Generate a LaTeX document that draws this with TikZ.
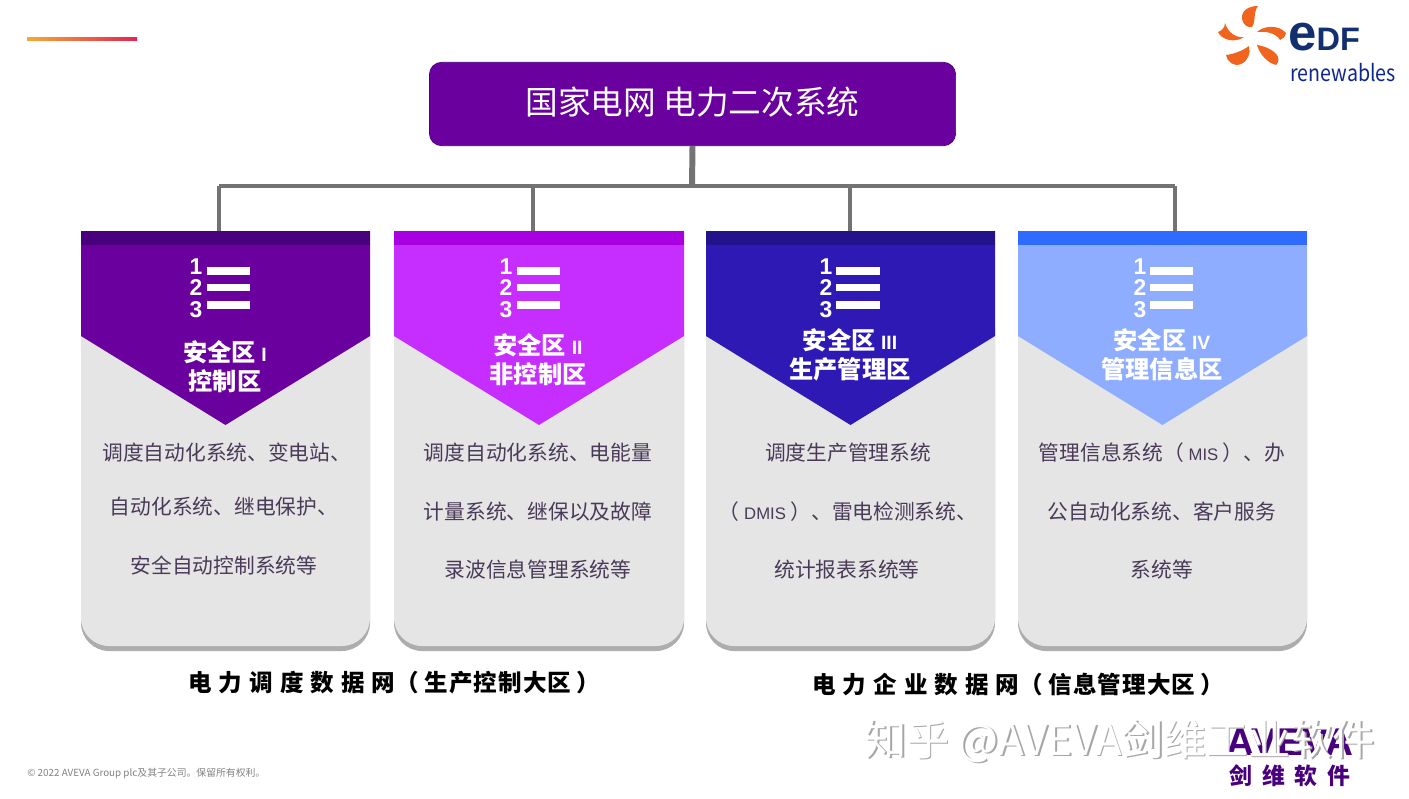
\documentclass[tikz,border=0pt]{standalone}
\usepackage{fontspec}
\usepackage{graphicx}
\usepackage{tikz}
\usetikzlibrary{positioning}
\setmainfont{Noto Sans CJK SC}
\newfontfamily\latinfont{Liberation Sans}
\definecolor{zoneA}{HTML}{6A009D}
\definecolor{zoneAtop}{HTML}{48007C}
\definecolor{zoneB}{HTML}{C62DFF}
\definecolor{zoneBtop}{HTML}{A800E0}
\definecolor{zoneC}{HTML}{2F19B5}
\definecolor{zoneCtop}{HTML}{23128C}
\definecolor{zoneD}{HTML}{8FADFF}
\definecolor{zoneDtop}{HTML}{2F6BFF}
\definecolor{edforange}{HTML}{F0641E}
\definecolor{edfblue}{HTML}{12306F}
\definecolor{bodytext}{HTML}{4A3A58}
\definecolor{ruleleft}{HTML}{F6A935}
\definecolor{ruleright}{HTML}{E5234F}
\begin{document}
\begin{tikzpicture}
  [
    x=0.02cm,
    y=-0.02cm,
    link/.style={draw=black!55,line width=2.6pt},
    cardbase/.style={fill=black!32},
    card/.style={fill=black!10},
    zonelabel/.style={text=white,font=\fontsize{13.8}{16}\selectfont\bfseries,inner sep=0pt},
    listnum/.style={text=white,font=\latinfont\fontsize{13}{14}\selectfont\bfseries,inner sep=0pt},
    listbar/.style={fill=white},
    bodyline/.style={text=bodytext,font=\fontsize{11.8}{14}\selectfont,inner sep=0pt},
    sublabel/.style={text=black,font=\fontsize{13.4}{16}\selectfont\bfseries,inner sep=0pt},
    petal/.style={fill=edforange}
  ]
  \useasboundingbox (0,0) rectangle (1409,798);
  \shade [left color=ruleleft,right color=ruleright] (27,37) rectangle (137,40);
  % title
  \node [fill=zoneA,draw=zoneAtop,rounded corners=7pt,minimum width=299.5pt,minimum height=47.5pt,inner sep=0pt,text=white,font=\fontsize{18.6}{22}\selectfont] (title) at (692.5,104) {\raisebox{3.4pt}{国家电网 电力二次系统}};
  % connectors
  \coordinate (stem) at (692,186);
  \coordinate (busA) at (219,186);
  \coordinate (busB) at (533,186);
  \coordinate (busC) at (850,186);
  \coordinate (busD) at (1175,186);
  \coordinate (dropA) at (219,231);
  \coordinate (dropB) at (533,231);
  \coordinate (dropC) at (850,231);
  \coordinate (dropD) at (1175,231);
  \draw [link,line width=3.4pt] (title.south) -- (stem);
  \draw [link] (busA) -- (busD);
  \draw [link] (busA) -- (dropA);
  \draw [link] (busB) -- (dropB);
  \draw [link] (busC) -- (dropC);
  \draw [link] (busD) -- (dropD);
  % cards
  \fill [cardbase,rounded corners=16pt] (81,300) -- (81,651) -- (370,651) -- (370,300) -- cycle;
  \fill [card,rounded corners=16pt] (81,300) -- (81,646) -- (370,646) -- (370,300) -- cycle;
  \fill [zoneA] (81,231) -- (370,231) -- (370,336) -- (225.5,425) -- (81,336) -- cycle;
  \fill [zoneAtop] (81,231) rectangle (370,245);
  \fill [cardbase,rounded corners=16pt] (394,300) -- (394,651) -- (684,651) -- (684,300) -- cycle;
  \fill [card,rounded corners=16pt] (394,300) -- (394,646) -- (684,646) -- (684,300) -- cycle;
  \fill [zoneB] (394,231) -- (684,231) -- (684,336) -- (539,425) -- (394,336) -- cycle;
  \fill [zoneBtop] (394,231) rectangle (684,245);
  \fill [cardbase,rounded corners=16pt] (706,300) -- (706,651) -- (995,651) -- (995,300) -- cycle;
  \fill [card,rounded corners=16pt] (706,300) -- (706,646) -- (995,646) -- (995,300) -- cycle;
  \fill [zoneC] (706,231) -- (995,231) -- (995,336) -- (850.5,425) -- (706,336) -- cycle;
  \fill [zoneCtop] (706,231) rectangle (995,245);
  \fill [cardbase,rounded corners=16pt] (1018,300) -- (1018,651) -- (1307,651) -- (1307,300) -- cycle;
  \fill [card,rounded corners=16pt] (1018,300) -- (1018,646) -- (1307,646) -- (1307,300) -- cycle;
  \fill [zoneD] (1018,231) -- (1307,231) -- (1307,336) -- (1162.5,425) -- (1018,336) -- cycle;
  \fill [zoneDtop] (1018,231) rectangle (1307,245);
  % list icons
  \fill [listbar] (207,267) rectangle (250,275);
  \fill [listbar] (207,284) rectangle (250,291);
  \fill [listbar] (207,301) rectangle (250,309);
  \node [listnum] (numA1) at (196,267) {1};
  \node [listnum] (numA2) at (196,288) {2};
  \node [listnum] (numA3) at (196,310) {3};
  \fill [listbar] (517,267) rectangle (560,275);
  \fill [listbar] (517,284) rectangle (560,291);
  \fill [listbar] (517,301) rectangle (560,309);
  \node [listnum] (numB1) at (506,267) {1};
  \node [listnum] (numB2) at (506,288) {2};
  \node [listnum] (numB3) at (506,310) {3};
  \fill [listbar] (836,267) rectangle (880,275);
  \fill [listbar] (836,284) rectangle (880,291);
  \fill [listbar] (836,301) rectangle (880,309);
  \node [listnum] (numC1) at (826,267) {1};
  \node [listnum] (numC2) at (826,288) {2};
  \node [listnum] (numC3) at (826,310) {3};
  \fill [listbar] (1150,267) rectangle (1193,275);
  \fill [listbar] (1150,284) rectangle (1193,291);
  \fill [listbar] (1150,301) rectangle (1193,309);
  \node [listnum] (numD1) at (1140,267) {1};
  \node [listnum] (numD2) at (1140,288) {2};
  \node [listnum] (numD3) at (1140,310) {3};
  % zone labels
  \node [zonelabel] (zoneAa) at (225,352) {安全区 {\latinfont\fontsize{11}{12}\selectfont I}};
  \node [zonelabel] (zoneAb) at (225,381) {控制区};
  \node [zonelabel] (zoneBa) at (538,345) {安全区 {\latinfont\fontsize{11}{12}\selectfont II}};
  \node [zonelabel] (zoneBb) at (538,374) {非控制区};
  \node [zonelabel] (zoneCa) at (850,340) {安全区 {\latinfont\fontsize{11}{12}\selectfont III}};
  \node [zonelabel] (zoneCb) at (850,369) {生产管理区};
  \node [zonelabel] (zoneDa) at (1162,340) {安全区 {\latinfont\fontsize{11}{12}\selectfont IV}};
  \node [zonelabel] (zoneDb) at (1162,369) {管理信息区};
  % body text
  \node [bodyline,anchor=west] (bodyA1) at (102,453) {调度自动化系统、变电站、};
  \node [bodyline] (bodyA2) at (224,507) {自动化系统、继电保护、};
  \node [bodyline] (bodyA3) at (224,566) {安全自动控制系统等};
  \node [bodyline] (bodyB1) at (538,453) {调度自动化系统、电能量};
  \node [bodyline] (bodyB2) at (538,512) {计量系统、继保以及故障};
  \node [bodyline] (bodyB3) at (538,570) {录波信息管理系统等};
  \node [bodyline] (bodyC1) at (848,453) {调度生产管理系统};
  \node [bodyline] (bodyC2) at (848,512) {（ {\latinfont\fontsize{9.5}{10}\selectfont DMIS} ）、雷电检测系统、};
  \node [bodyline] (bodyC3) at (847,570) {统计报表系统等};
  \node [bodyline] (bodyD1) at (1162,453) {管理信息系统（ {\latinfont\fontsize{9.5}{10}\selectfont MIS} ）、办};
  \node [bodyline] (bodyD2) at (1162,512) {公自动化系统、客户服务};
  \node [bodyline] (bodyD3) at (1162,570) {系统等};
  % lower labels
  \node [sublabel,anchor=west] (netA) at (188,683) {{\addfontfeature{LetterSpace=30}电力调度数据网}（\hspace{3pt}{\addfontfeature{LetterSpace=5}生产控制大区}\hspace{3pt}）};
  \node [sublabel,anchor=west] (netB) at (812,685) {{\addfontfeature{LetterSpace=30}电力企业数据网}（\hspace{3pt}{\addfontfeature{LetterSpace=5}信息管理大区}\hspace{3pt}）};
  % logo
  \fill [petal] (1258,6) .. controls (1248,6) and (1241,11) .. (1242,19) .. controls (1243,25) and (1248,28) .. (1252,27) .. controls (1256,22) and (1253,12) .. (1258,6) -- cycle;
  \fill [petal] (1225,23) .. controls (1225,28) and (1221,31) .. (1218,32) .. controls (1221,39) and (1234,44) .. (1244,37) .. controls (1236,38) and (1228,33) .. (1225,23) -- cycle;
  \fill [petal] (1257,32) .. controls (1263,26) and (1278,24) .. (1286,33) .. controls (1285,37) and (1283,39) .. (1280,40) .. controls (1276,33) and (1266,31) .. (1257,32) -- cycle;
  \fill [petal] (1249,46) .. controls (1242,51) and (1234,54) .. (1226,55) .. controls (1227,62) and (1234,67) .. (1241,64) .. controls (1248,61) and (1251,53) .. (1249,46) -- cycle;
  \fill [petal] (1257,45) .. controls (1264,46) and (1275,50) .. (1278,57) .. controls (1279,61) and (1278,64) .. (1276,65) .. controls (1268,63) and (1260,55) .. (1257,45) -- cycle;
  \node [text=edfblue,font=\latinfont\fontsize{18.5}{24}\selectfont\bfseries,inner sep=0pt,anchor=base west] (edfname) at (1288,50) {{\fontsize{29}{30}\selectfont e}DF};
  \node [text=edfblue!80!blue,font=\fontsize{13}{15}\selectfont,inner sep=0pt] (edfsub) at (1343,73) {\scalebox{.86}[1]{renewables}};
  % footer
  \node [text=black!50,font=\fontsize{5.6}{6}\selectfont,anchor=west,inner sep=0pt] (copyright) at (27,773) {© 2022 AVEVA Group plc及其子公司。保留所有权利。};
  \node [text=zoneAtop,font=\latinfont\fontsize{22}{24}\selectfont\bfseries,inner sep=0pt] (avevaname) at (1290,742) {AVEVA};
  \node [text=zoneAtop,font=\fontsize{13}{15}\selectfont\bfseries,inner sep=0pt] (avevasub) at (1290,776) {{\addfontfeature{LetterSpace=42}剑维软件}};
  % watermark
  \node [text=black!35,font=\fontsize{24}{28}\selectfont,anchor=west,inner sep=0pt] (markshade) at (866,742) {知乎 @AVEVA剑维工业软件};
  \node [text=white,font=\fontsize{24}{28}\selectfont,anchor=west,inner sep=0pt] (mark) at (864.5,741) {知乎 @AVEVA剑维工业软件};
\end{tikzpicture}
\end{document}
